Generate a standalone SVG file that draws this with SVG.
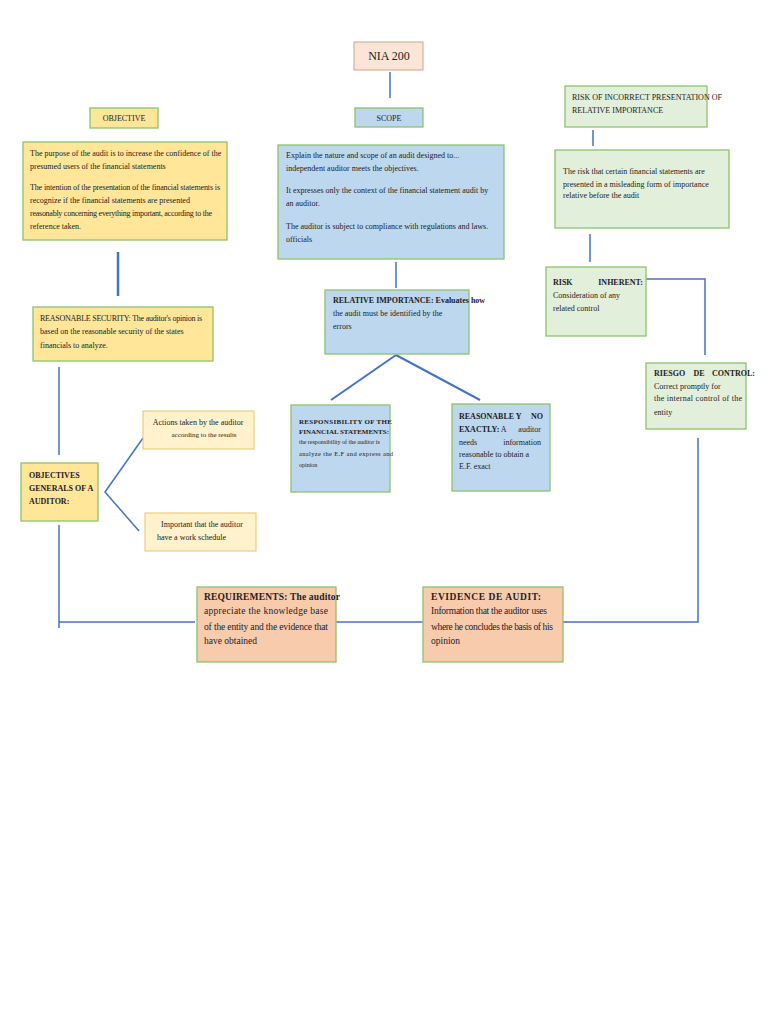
<svg xmlns="http://www.w3.org/2000/svg" width="768" height="1024" viewBox="0 0 768 1024">
<style>
text{font-family:"Liberation Serif",serif;font-size:8px;fill:#222}
.b{font-weight:bold}
.y{fill:#ffe699;stroke:#8cc36b;stroke-width:1.3}
.ly{fill:#fff2cc;stroke:#e8c66a;stroke-width:1}
.bl{fill:#bdd7ee;stroke:#8cc36b;stroke-width:1.3}
.g{fill:#e2efda;stroke:#8cc36b;stroke-width:1.3}
.o{fill:#f8cbad;stroke:#8cc36b;stroke-width:1.3}
.c line,.c polyline{stroke:#4472c4;stroke-width:1.5;fill:none}
.r{font-size:9.5px}
</style>
<rect width="768" height="1024" fill="#fff"/>
<g class="c">
<line x1="390" y1="72" x2="390" y2="98"/>
<line x1="593" y1="130" x2="593" y2="146"/>
<line x1="590" y1="234" x2="590" y2="262"/>
<line x1="118" y1="252" x2="118" y2="296" style="stroke-width:2.5"/>
<line x1="396" y1="262" x2="396" y2="288"/>
<polyline points="646,279 705,279 705,355"/>
<polyline points="698,438 698,622 563,622"/>
<line x1="396" y1="355" x2="331" y2="400" style="stroke-width:2"/>
<line x1="396" y1="355" x2="480" y2="400" style="stroke-width:2"/>
<polyline points="143,438 105,492 139,531"/>
<line x1="59" y1="367" x2="59" y2="455"/>
<polyline points="59,525 59,628"/>
<line x1="59" y1="622" x2="195" y2="622"/>
<line x1="336" y1="622" x2="423" y2="622"/>
</g>
<g id="nia"><rect x="354" y="42" width="69" height="28" fill="#fbe5d6" stroke="#c9a58a"/><text x="389" y="60" text-anchor="middle" style="font-size:12px">NIA 200</text></g>
<g id="objective"><rect class="y" x="90" y="108" width="68" height="20"/><text x="124" y="121" text-anchor="middle">OBJECTIVE</text></g>
<g id="scope"><rect class="bl" x="355" y="108" width="68" height="19"/><text x="389" y="121" text-anchor="middle">SCOPE</text></g>
<g id="risk-title"><rect class="g" x="565" y="86" width="142" height="41"/><text x="572" y="100">RISK OF INCORRECT PRESENTATION OF</text><text x="572" y="113">RELATIVE IMPORTANCE</text></g>
<g id="objective-desc"><rect class="y" x="23" y="142" width="204" height="98"/>
<text x="30" y="156">The purpose of the audit is to increase the confidence of the</text>
<text x="30" y="169">presumed users of the financial statements</text>
<text x="30" y="190" textLength="190">The intention of the presentation of the financial statements is</text>
<text x="30" y="203">recognize if the financial statements are presented</text>
<text x="30" y="216" textLength="182">reasonably concerning everything important, according to the</text>
<text x="30" y="229">reference taken.</text></g>
<g id="scope-desc"><rect class="bl" x="278" y="145" width="226" height="114"/>
<text x="286" y="158">Explain the nature and scope of an audit designed to...</text>
<text x="286" y="171">independent auditor meets the objectives.</text>
<text x="286" y="193">It expresses only the context of the financial statement audit by</text>
<text x="286" y="206">an auditor.</text>
<text x="286" y="229">The auditor is subject to compliance with regulations and laws.</text>
<text x="286" y="242">officials</text></g>
<g id="risk-desc"><rect class="g" x="555" y="150" width="174" height="78"/>
<text x="563" y="174">The risk that certain financial statements are</text>
<text x="563" y="187">presented in a misleading form of importance</text>
<text x="563" y="198">relative before the audit</text></g>
<g id="reasonable-security"><rect class="y" x="33" y="307" width="180" height="54"/>
<text x="40" y="321" textLength="162">REASONABLE SECURITY: The auditor's opinion is</text>
<text x="40" y="334">based on the reasonable security of the states</text>
<text x="40" y="348">financials to analyze.</text></g>
<g id="relative-importance"><rect class="bl" x="325" y="290" width="144" height="64"/>
<text x="333" y="303" class="b">RELATIVE IMPORTANCE: Evaluates how</text>
<text x="333" y="316">the audit must be identified by the</text>
<text x="333" y="329">errors</text></g>
<g id="risk-inherent"><rect class="g" x="546" y="267" width="100" height="69"/>
<text x="553" y="285" class="b">RISK</text><text x="643" y="285" class="b" text-anchor="end">INHERENT:</text>
<text x="553" y="298">Consideration of any</text>
<text x="553" y="311">related control</text></g>
<g id="control-risk"><rect class="g" x="646" y="363" width="100" height="66"/>
<text x="654" y="376" class="b">RIESGO</text><text x="699" y="376" class="b" text-anchor="middle">DE</text><text x="755" y="376" class="b" text-anchor="end">CONTROL:</text>
<text x="654" y="389">Correct promptly for</text>
<text x="654" y="401" textLength="88">the internal control of the</text>
<text x="654" y="415">entity</text></g>
<g id="responsibility"><rect class="bl" x="291" y="405" width="99" height="87"/>
<text x="299" y="424" class="b" style="font-size:7px" textLength="93">RESPONSIBILITY OF THE</text>
<text x="299" y="434" class="b" style="font-size:7px" textLength="90">FINANCIAL STATEMENTS:</text>
<text x="299" y="444" style="font-size:6px">the responsibility of the auditor is</text>
<text x="299" y="456" style="font-size:6.5px" textLength="94">analyze the E.F and express and</text>
<text x="299" y="467" style="font-size:6px">opinion</text></g>
<g id="reasonable-no"><rect class="bl" x="452" y="404" width="98" height="87"/>
<text x="459" y="419" class="b">REASONABLE Y</text><text x="543" y="419" class="b" text-anchor="end">NO</text>
<text x="459" y="432"><tspan class="b">EXACTLY:</tspan> A</text><text x="541" y="432" text-anchor="end">auditor</text>
<text x="459" y="445">needs</text><text x="541" y="445" text-anchor="end">information</text>
<text x="459" y="457">reasonable to obtain a</text>
<text x="459" y="469">E.F. exact</text></g>
<g id="actions"><rect class="ly" x="143" y="411" width="111" height="38"/>
<text x="198" y="425" text-anchor="middle">Actions taken by the auditor</text>
<text x="204" y="437" text-anchor="middle" style="font-size:7px">according to the results</text></g>
<g id="objectives-generals"><rect class="y" x="21" y="463" width="77" height="58"/>
<text x="29" y="478" class="b">OBJECTIVES</text><text x="29" y="491" class="b">GENERALS OF A</text><text x="29" y="504" class="b">AUDITOR:</text></g>
<g id="important"><rect class="ly" x="145" y="513" width="111" height="38"/>
<text x="161" y="527">Important that the auditor</text>
<text x="157" y="540">have a work schedule</text></g>
<g id="requirements"><rect class="o" x="197" y="587" width="139" height="75"/>
<text x="204" y="600" class="b r" textLength="136">REQUIREMENTS:  The  auditor</text>
<text x="204" y="614" class="r" textLength="124">appreciate the knowledge base</text>
<text x="204" y="630" class="r" textLength="124">of the entity and the evidence that</text>
<text x="204" y="644" class="r">have obtained</text></g>
<g id="evidence"><rect class="o" x="423" y="587" width="140" height="75"/>
<text x="431" y="600" class="b r" textLength="110">EVIDENCE  DE  AUDIT:</text>
<text x="431" y="614" class="r" textLength="116">Information that the auditor uses</text>
<text x="431" y="630" class="r" textLength="122">where he concludes the basis of his</text>
<text x="431" y="644" class="r">opinion</text></g>
</svg>
